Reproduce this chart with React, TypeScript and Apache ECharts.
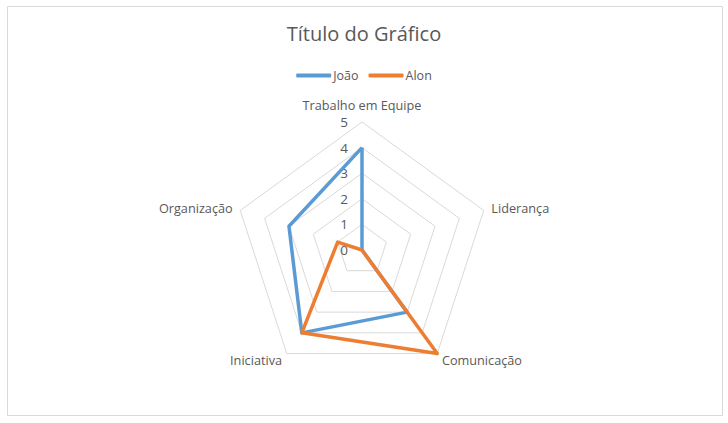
import React from 'react';
import * as echarts from 'echarts';

// categories in clockwise order starting at the top
const categories = ['Trabalho em Equipe', 'Liderança', 'Comunicação', 'Iniciativa', 'Organização'];
const joao = [4, 0, 3, 4, 3];
const alon = [0, 0, 5, 4, 1];
const seriesNames = ['João', 'Alon'];
const maxValue = 5;

// echarts lays radar indicators out counter-clockwise, so flip the order after the first one
const order = [0, 4, 3, 2, 1];
const pick = (arr: any[]) => order.map((i) => arr[i]);

const App = () => {
  const chartRef = React.useRef(null);

  React.useEffect(() => {
    const myChart = echarts.init(chartRef.current, null, { renderer: 'svg' });

    const indicator: any[] = pick(categories).map((name: string, i: number) => ({
      name,
      min: 0,
      max: maxValue,
      axisLabel: { show: i === 0 },
    }));

    const option: any = {
      animation: false,
      backgroundColor: '#ffffff',
      textStyle: { fontFamily: 'Open Sans' },
      title: {
        text: 'Título do Gráfico',
        left: 'center',
        top: 18,
        textStyle: { fontFamily: 'Open Sans', fontSize: 20, fontWeight: 'normal', color: '#595959' },
      },
      legend: {
        data: seriesNames,
        top: 64,
        left: 'center',
        icon: 'roundRect',
        itemWidth: 35,
        itemHeight: 4,
        itemGap: 10,
        textStyle: { fontFamily: 'Open Sans', fontSize: 12.5, color: '#595959', padding: [0, 0, 0, -3] },
      },
      graphic: [
        {
          type: 'rect',
          shape: { x: 7.5, y: 6.5, width: 715, height: 409 },
          style: { fill: 'none', stroke: '#d9d9d9', lineWidth: 1 },
          silent: true,
        },
      ],
      radar: {
        center: [362, 250],
        radius: 128,
        startAngle: 90,
        splitNumber: 5,
        shape: 'polygon',
        indicator,
        nameGap: 8,
        axisName: {
          color: '#595959',
          fontFamily: 'Open Sans',
          fontSize: 12.7,
          formatter: (name: string) => (name === categories[0] ? '{t|' + name + '}' : name),
          rich: { t: { padding: [0, 0, 3, 0], color: '#595959', fontFamily: 'Open Sans', fontSize: 12.7 } },
        },
        axisLine: { show: false },
        axisTick: { show: false },
        axisLabel: { show: false, color: '#595959', fontFamily: 'Open Sans', fontSize: 13.5, margin: 14 },
        splitLine: { lineStyle: { color: '#d9d9d9', width: 1 } },
        splitArea: { show: false },
      },
      series: [
        {
          type: 'radar',
          symbol: 'none',
          data: [
            { name: seriesNames[0], value: pick(joao), lineStyle: { color: '#5b9bd5', width: 3.5 }, itemStyle: { color: '#5b9bd5' } },
            { name: seriesNames[1], value: pick(alon), lineStyle: { color: '#ed7d31', width: 3.5 }, itemStyle: { color: '#ed7d31' } },
          ],
        },
      ],
    };

    myChart.setOption(option);

    return () => {
      myChart.dispose();
    };
  }, []);

  return (
    <div
      ref={chartRef}
      style={{ position: 'absolute', left: 0, top: 0, width: '728px', height: '423px' }}
    />
  );
};

export default App;
